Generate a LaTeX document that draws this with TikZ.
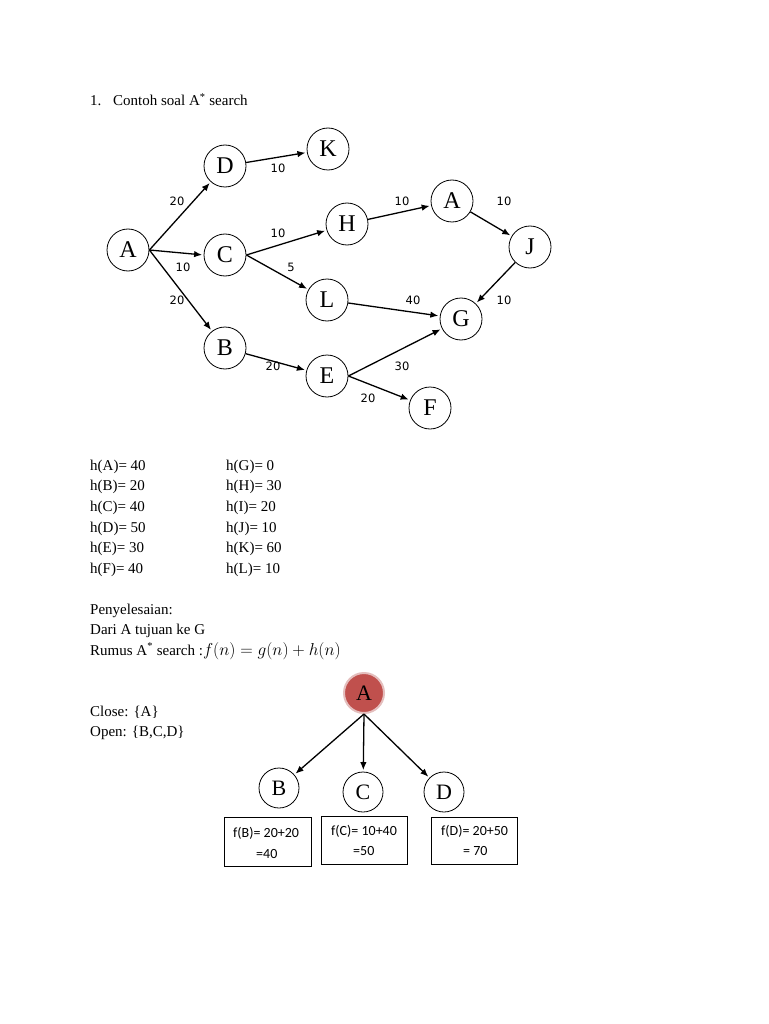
\documentclass[tikz,border=0pt]{standalone}
\usepackage{fontspec}
\setmainfont{Liberation Serif}
\newfontfamily\lblfont{DejaVu Sans}
\newfontfamily\boxfont{Carlito}
\usetikzlibrary{arrows.meta}
\definecolor{nodered}{RGB}{192,80,77}
\definecolor{rimred}{RGB}{228,190,189}
\newcommand{\bodysz}{\fontsize{15}{18}\selectfont}
\tikzset{
  gnode/.style={circle,draw,line width=0.8pt,minimum size=42pt,inner sep=0pt,font=\fontsize{24}{24}\selectfont},
  tnode/.style={circle,draw,line width=0.8pt,minimum size=40pt,inner sep=0pt,font=\fontsize{22}{22}\selectfont},
  edge/.style={line width=1.3pt,-{Latex[length=8pt,width=6.5pt]},shorten >=1.5pt},
  wlbl/.style={font=\lblfont\fontsize{11.5}{12}\selectfont,inner sep=0pt},
  txt/.style={anchor=base west,inner sep=0pt,font=\bodysz},
  btxt/.style={anchor=base west,inner sep=0pt,font=\boxfont\fontsize{14}{16}\selectfont},
  fbox/.style={draw,line width=0.8pt}
}
\begin{document}
\begin{tikzpicture}[x=1pt,y=-1pt]
\useasboundingbox (0,0) rectangle (768,1024);
\fill[white] (0,0) rectangle (768,1024);
% title
\node[txt] (t1) at (90,106) {1.};
\node[txt] (t2) at (113,106) {Contoh soal A\textsuperscript{*} search};
% graph nodes
\node[gnode] (A) at (128,250) {A};
\node[gnode] (D) at (225,166) {D};
\node[gnode] (K) at (328,149) {K};
\node[gnode] (C) at (225,255) {C};
\node[gnode] (H) at (347,224) {H};
\node[gnode] (A2) at (452,201) {A};
\node[gnode] (J) at (530,247) {J};
\node[gnode] (L) at (327,300) {L};
\node[gnode] (G) at (461,319) {G};
\node[gnode] (B) at (225,348) {B};
\node[gnode] (E) at (327,376) {E};
\node[gnode] (F) at (430,408) {F};
% graph edges
\draw[edge] (A.east) -- (D);
\draw[edge] (A.east) -- (C.west);
\draw[edge] (A.east) -- (B);
\draw[edge] (D) -- (K);
\draw[edge] (C.east) -- (H);
\draw[edge] (C.east) -- (L);
\draw[edge] (H) -- (A2);
\draw[edge] (A2) -- (J);
\draw[edge] (J) -- (G);
\draw[edge] (L) -- (G);
\draw[edge] (B) -- (E);
\draw[edge] (E.east) -- (G);
\draw[edge] (E.east) -- (F);
% weights
\node[wlbl] (w1) at (177,201) {20};
\node[wlbl] (w2) at (183,267) {10};
\node[wlbl] (w3) at (177,300) {20};
\node[wlbl] (w4) at (278,168) {10};
\node[wlbl] (w5) at (278,233) {10};
\node[wlbl] (w6) at (291,267) {5};
\node[wlbl] (w7) at (402,201) {10};
\node[wlbl] (w8) at (504,201) {10};
\node[wlbl] (w9) at (413,300) {40};
\node[wlbl] (w10) at (504,300) {10};
\node[wlbl] (w11) at (273,366) {20};
\node[wlbl] (w12) at (402,366) {30};
\node[wlbl] (w13) at (368,398) {20};
% heuristics
\node[txt] (hA) at (90,470) {h(A)= 40};
\node[txt] (hB) at (90,490) {h(B)= 20};
\node[txt] (hC) at (90,511) {h(C)= 40};
\node[txt] (hD) at (90,532) {h(D)= 50};
\node[txt] (hE) at (90,552) {h(E)= 30};
\node[txt] (hF) at (90,573) {h(F)= 40};
\node[txt] (hG) at (226,470) {h(G)= 0};
\node[txt] (hH) at (226,490) {h(H)= 30};
\node[txt] (hI) at (226,511) {h(I)= 20};
\node[txt] (hJ) at (226,532) {h(J)= 10};
\node[txt] (hK) at (226,552) {h(K)= 60};
\node[txt] (hL) at (226,573) {h(L)= 10};
% solution text
\node[txt] (p1) at (90,614) {Penyelesaian:};
\node[txt] (p2) at (90,634) {Dari A tujuan ke G};
\node[txt] (p3) at (90,655) {Rumus A\textsuperscript{*} search :{\fontsize{16.5}{18}\selectfont$f(n) = g(n) + h(n)$}};
\node[txt] (c1) at (90,716) {Close: \{A\}};
\node[txt] (c2) at (90,736) {Open: \{B,C,D\}};
% tree
\node[tnode,fill=nodered,draw=rimred,line width=2pt] (TA) at (364,693) {A};
\node[tnode] (TB) at (279,788) {B};
\node[tnode] (TC) at (363,792) {C};
\node[tnode] (TD) at (444,792) {D};
\draw[edge] (TA.south) -- (TB);
\draw[edge] (TA.south) -- (TC);
\draw[edge] (TA.south) -- (TD);
% boxes
\draw[fbox] (224,817) rectangle (311,866);
\draw[fbox] (321,816) rectangle (407,864);
\draw[fbox] (431,817) rectangle (517,864);
\node[btxt] (fb1) at (233,837) {f(B)= 20+20};
\node[btxt] (fb2) at (256,858) {=40};
\node[btxt] (fc1) at (331,835) {f(C)= 10+40};
\node[btxt] (fc2) at (353,855) {=50};
\node[btxt] (fd1) at (441,835) {f(D)= 20+50};
\node[btxt] (fd2) at (463,855) {= 70};
\end{tikzpicture}
\end{document}
